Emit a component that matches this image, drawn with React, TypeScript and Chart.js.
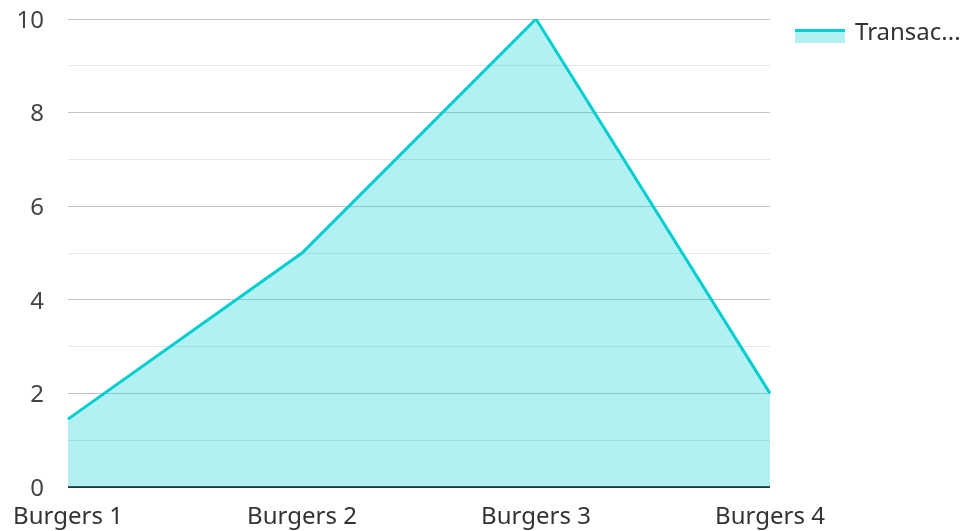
import React, { useEffect, useRef } from "react";
import { Chart, registerables } from "chart.js";

Chart.register(...registerables);

const categories = ["Burgers 1", "Burgers 2", "Burgers 3", "Burgers 4"];
const transactions = [1.45, 5, 10, 2];
const seriesName = "Transac...";
const yMin = 0;
const yMax = 10;

const LINE = "rgb(0, 206, 209)";
const FILL = "rgba(0, 206, 209, 0.3)";
const FONT = "'Noto Sans', 'Open Sans', sans-serif";

const legendPlugin = {
  id: "customLegend",
  afterDraw(chart: any) {
    const ctx = chart.ctx;
    const x = chart.chartArea.right + 25;
    const y = 29;
    ctx.save();
    ctx.fillStyle = FILL;
    ctx.fillRect(x, y, 50, 14);
    ctx.fillStyle = LINE;
    ctx.fillRect(x, y, 50, 3);
    ctx.fillStyle = "#333333";
    ctx.font = `24px ${FONT}`;
    ctx.textBaseline = "middle";
    ctx.textAlign = "left";
    ctx.fillText(seriesName, x + 60, y + 4);
    ctx.restore();
  },
};

export default function App() {
  const ref = useRef<HTMLCanvasElement | null>(null);
  useEffect(() => {
    if (!ref.current) return;
    const chart = new Chart(ref.current, {
      type: "line",
      data: {
        labels: categories,
        datasets: [
          {
            label: seriesName,
            data: transactions,
            borderColor: LINE,
            backgroundColor: FILL,
            borderWidth: 3,
            fill: "origin",
            pointRadius: 0,
            tension: 0,
          },
        ],
      },
      options: {
        responsive: false,
        animation: false,
        layout: { padding: { top: 19, right: 195, left: 0, bottom: 0 } },
        plugins: { legend: { display: false }, tooltip: { enabled: false } },
        scales: {
          x: {
            offset: false,
            grid: { display: false },
            border: { display: false },
            ticks: {
              color: "#333333",
              font: { size: 24, family: FONT },
              maxRotation: 0,
              autoSkip: false,
              padding: 8,
            },
            afterFit(scale: any) {
              scale.height = 44;
              scale.paddingLeft = 0;
              scale.paddingRight = 0;
            },
          },
          y: {
            min: yMin,
            max: yMax,
            border: { display: false },
            grid: {
              drawTicks: false,
              color: (c: any) =>
                c.tick && c.tick.value === 0
                  ? "#333333"
                  : c.tick && c.tick.value % 2 === 0
                  ? "#c4c4c4"
                  : "#e6e6e6",
              lineWidth: (c: any) => (c.tick && c.tick.value === 0 ? 2 : 1),
            },
            ticks: {
              stepSize: 1,
              color: "#444444",
              font: { size: 24, family: FONT },
              padding: 24,
              labelOffset: 2,
              callback: (v: any) => (Number(v) % 2 === 0 ? String(v) : ""),
            },
            afterFit(scale: any) {
              scale.width = 68;
              scale.paddingTop = 0;
              scale.paddingBottom = 0;
            },
          },
        },
      },
      plugins: [legendPlugin],
    });
    return () => chart.destroy();
  }, []);
  return (
    <div style={{ position: "absolute", left: 0, top: 0, width: 965, height: 531 }}>
      <canvas ref={ref} width={965} height={531} style={{ width: 965, height: 531 }} />
    </div>
  );
}
